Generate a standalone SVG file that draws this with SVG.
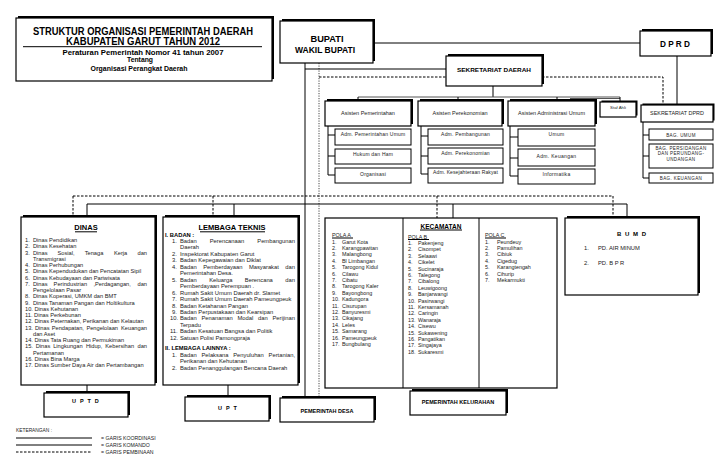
<svg xmlns="http://www.w3.org/2000/svg" width="728" height="476" viewBox="0 0 728 476">
<style>
text{font-family:"Liberation Sans",Arial,sans-serif;fill:#222}
.b{font-weight:bold;fill:#000}
.c{text-anchor:middle}
.e{text-anchor:end}
.bx{fill:#fff;stroke:#000;stroke-width:1.2}
.sb{fill:#fff;stroke:#000;stroke-width:1}
.sh{fill:#000}
.ln{stroke:#000;stroke-width:1;fill:none}
.gl{stroke:#555;stroke-width:1;fill:none}
.ds{stroke:#000;stroke-width:1;stroke-dasharray:2.5 1.5;fill:none}
.dt{stroke:#333;stroke-width:0.9;stroke-dasharray:1.2 1.3;fill:none}
.s5{font-size:5px}
.l{font-size:5.7px}
.m{font-size:5.8px}
.k{font-size:5.4px}
</style>
<rect width="728" height="476" fill="#fff"/>

<g id="connectors">
<line class="ln" x1="373" y1="43" x2="640" y2="43"/>
<line class="ln" x1="305" y1="63" x2="305" y2="398"/>
<line class="dt" x1="319" y1="63" x2="319" y2="398"/>
<line class="ln" x1="305" y1="69" x2="446" y2="69"/>
<polyline class="ds" points="319,77 446,77"/>
<polyline class="ds" points="542,77 663,77 663,105"/>
<line class="ln" x1="677" y1="56" x2="677" y2="105"/>
<line class="ln" x1="493" y1="86" x2="493" y2="97"/>
<line class="gl" x1="358" y1="97" x2="620" y2="97"/>
<line class="gl" x1="570" y1="98.5" x2="620" y2="98.5"/>
<line class="ln" x1="358" y1="97" x2="358" y2="101"/>
<line class="ln" x1="458" y1="97" x2="458" y2="101"/>
<line class="ln" x1="557" y1="97" x2="557" y2="101"/>
<line class="ln" x1="620" y1="97" x2="620" y2="102"/>
<polyline class="ln" points="328,126 328,175 335,175"/>
<line class="ln" x1="328" y1="135" x2="335" y2="135"/>
<line class="ln" x1="328" y1="156" x2="335" y2="156"/>
<polyline class="ln" points="421,126 421,174 428,174"/>
<line class="ln" x1="421" y1="136" x2="428" y2="136"/>
<line class="ln" x1="421" y1="156" x2="428" y2="156"/>
<polyline class="ln" points="510,126 510,176 518,176"/>
<line class="ln" x1="510" y1="137" x2="518" y2="137"/>
<line class="ln" x1="510" y1="158" x2="518" y2="158"/>
<polyline class="ln" points="643,122 643,178 649,178"/>
<line class="ln" x1="643" y1="135" x2="649" y2="135"/>
<line class="ln" x1="643" y1="156" x2="649" y2="156"/>
<line class="ds" x1="73" y1="196" x2="613" y2="196"/>
<line class="ln" x1="87" y1="204" x2="627" y2="204"/>
<line class="ds" x1="73" y1="196" x2="73" y2="217"/>
<line class="ln" x1="87" y1="204" x2="87" y2="217"/>
<line class="ds" x1="213" y1="196" x2="213" y2="217"/>
<line class="ln" x1="234" y1="204" x2="234" y2="217"/>
<line class="ds" x1="437" y1="196" x2="437" y2="218"/>
<line class="ln" x1="453" y1="204" x2="453" y2="218"/>
<line class="ds" x1="613" y1="196" x2="613" y2="218"/>
<line class="ln" x1="627" y1="204" x2="627" y2="218"/>
<line class="ln" x1="87" y1="385" x2="87" y2="393"/>
<line class="ln" x1="228" y1="385" x2="228" y2="397"/>
</g>

<g id="title">
<rect class="sh" x="18" y="16" width="256" height="63"/>
<rect class="bx" x="16" y="18" width="256" height="63" stroke-width="1.8"/>
<text class="b c" x="143" y="35" font-size="10" textLength="220" lengthAdjust="spacingAndGlyphs">STRUKTUR ORGANISASI PEMERINTAH DAERAH</text>
<text class="b c" x="143" y="45" font-size="10" textLength="154" lengthAdjust="spacingAndGlyphs">KABUPATEN GARUT  TAHUN 2012</text>
<line class="ln" x1="23" y1="46.7" x2="262" y2="46.7"/>
<text class="b c" x="143" y="54.5" font-size="6.6" textLength="161" lengthAdjust="spacingAndGlyphs">Peraturan Pemerintah Nomor 41 tahun 2007</text>
<text class="b c" x="140" y="62" font-size="6.6" textLength="26" lengthAdjust="spacingAndGlyphs">Tentang</text>
<text class="b c" x="139" y="71" font-size="6.6" textLength="97" lengthAdjust="spacingAndGlyphs">Organisasi Perangkat Daerah</text>
</g>

<g id="bupati">
<rect class="sh" x="282" y="19" width="93" height="42"/>
<rect class="bx" x="280" y="21" width="93" height="42" stroke-width="1.8"/>
<text class="b c" x="327" y="41.5" font-size="9" textLength="33" lengthAdjust="spacingAndGlyphs">BUPATI</text>
<text class="b c" x="325" y="52.5" font-size="9" textLength="60" lengthAdjust="spacingAndGlyphs">WAKIL BUPATI</text>
</g>

<g id="dprd">
<rect class="sh" x="642" y="29" width="71" height="25"/>
<rect class="bx" x="640" y="31" width="71" height="25"/>
<text class="b c" x="675" y="46.5" font-size="8.5" textLength="30" lengthAdjust="spacingAndGlyphs">D P R D</text>
</g>

<g id="sekda">
<rect class="sh" x="448" y="54" width="96" height="30"/>
<rect class="bx" x="446" y="56" width="96" height="30"/>
<text class="b c" x="494" y="71.5" font-size="6" textLength="74" lengthAdjust="spacingAndGlyphs">SEKRETARIAT  DAERAH</text>
</g>

<g id="asisten-pemerintahan">
<rect class="sh" x="327" y="99" width="86" height="25"/>
<rect class="bx" x="325" y="101" width="86" height="25"/>
<text class="c" font-size="5.5" x="368" y="114.5">Asisten Pemerintahan</text>
</g>
<g id="asisten-perekonomian">
<rect class="sh" x="420" y="99" width="84" height="25"/>
<rect class="bx" x="418" y="101" width="84" height="25"/>
<text class="c" font-size="5.5" x="460" y="114.5">Asisten Perekonomian</text>
</g>
<g id="asisten-administrasi">
<rect class="sh" x="510" y="99" width="87" height="25"/>
<rect class="bx" x="508" y="101" width="87" height="25"/>
<text class="c" font-size="5.5" x="551.5" y="114.5">Asisten Administrasi Umum</text>
</g>
<g id="staf-ahli">
<rect class="sh" x="601.5" y="100.5" width="36" height="15"/>
<rect class="bx" x="600" y="102" width="36" height="15"/>
<text class="c" x="618" y="109" font-size="4.3">Staf Ahli</text>
</g>
<g id="sekretariat-dprd">
<rect class="sh" x="642.5" y="103.5" width="72" height="17"/>
<rect class="bx" x="641" y="105" width="72" height="17"/>
<text class="c" font-size="5.5" x="677" y="114.5" textLength="54" lengthAdjust="spacingAndGlyphs">SEKRETARIAT DPRD</text>
</g>

<g id="adm-pemerintahan-umum"><rect class="sb" x="335" y="129" width="76" height="16"/><text class="c s5" x="373" y="135.5" letter-spacing="0.2">Adm. Pemerintahan Umum</text></g>
<g id="hukum-ham"><rect class="sb" x="335" y="149" width="76" height="15"/><text class="c s5" x="373" y="156" letter-spacing="0.2">Hukum dan Ham</text></g>
<g id="organisasi"><rect class="sb" x="335" y="168" width="76" height="15"/><text class="c s5" x="373" y="175.5" letter-spacing="0.2">Organisasi</text></g>

<g id="adm-pembangunan"><rect class="sb" x="428" y="129" width="75" height="16"/><text class="c s5" x="465.5" y="135.5" letter-spacing="0.2">Adm. Pembangunan</text></g>
<g id="adm-perekonomian"><rect class="sb" x="428" y="148" width="75" height="16"/><text class="c s5" x="465.5" y="155" letter-spacing="0.2">Adm. Perekonomian</text></g>
<g id="adm-kesra"><rect class="sb" x="428" y="168" width="75" height="15"/><text class="c s5" x="465.5" y="173.5" letter-spacing="0.1">Adm. Kesejahteraan Rakyat</text></g>

<g id="umum"><rect class="sb" x="518" y="129" width="77" height="17"/><text class="c s5" x="556.5" y="135.5" letter-spacing="0.3">Umum</text></g>
<g id="adm-keuangan"><rect class="sb" x="518" y="149" width="77" height="17"/><text class="c s5" x="556.5" y="158" letter-spacing="0.3">Adm. Keuangan</text></g>
<g id="informatika"><rect class="sb" x="518" y="169" width="77" height="15"/><text class="c s5" x="556.5" y="176" letter-spacing="0.3">Informatika</text></g>

<g id="bag-umum"><rect class="sb" x="649" y="129" width="64" height="11"/><text class="c" font-size="4.5" x="681" y="136.5" letter-spacing="0.4">BAG. UMUM</text></g>
<g id="bag-persidangan"><rect class="sb" x="649" y="144" width="64" height="24"/>
<text class="c" font-size="4.5" x="681" y="150" letter-spacing="0.4">BAG. PERSIDANGAN</text>
<text class="c" font-size="4.5" x="681" y="155" letter-spacing="0.4">DAN PERUNDANG-</text>
<text class="c" font-size="4.5" x="681" y="161" letter-spacing="0.4">UNDANGAN</text></g>
<g id="bag-keuangan"><rect class="sb" x="649" y="173" width="64" height="10"/><text class="c" font-size="4.5" x="681" y="179.5" letter-spacing="0.4">BAG. KEUANGAN</text></g>

<g id="dinas">
<rect class="sh" x="23" y="215" width="134" height="168"/>
<rect class="bx" x="21" y="217" width="134" height="168"/>
<text class="b c" x="86" y="230" font-size="7.5">DINAS</text>
<line class="ln" x1="75" y1="231.8" x2="97" y2="231.8"/>
<g class="l">
<text x="25" y="242">1.</text><text x="33" y="242">Dinas Pendidikan</text>
<text x="25" y="248.25">2.</text><text x="33" y="248.25">Dinas Kesehatan</text>
<text x="25" y="254.5">3.</text><text x="33" y="254.5">Dinas</text><text x="57.5" y="254.5">Sosial,</text><text x="84.7" y="254.5">Tenaga</text><text x="114" y="254.5">Kerja</text><text class="e" x="147" y="254.5">dan</text>
<text x="33" y="260.75">Transmigrasi</text>
<text x="25" y="267">4.</text><text x="33" y="267">Dinas Perhubungan</text>
<text x="25" y="273.25">5.</text><text x="33" y="273.25">Dinas Kependudukan dan Pencatatan Sipil</text>
<text x="25" y="279.5">6.</text><text x="33" y="279.5">Dinas Kebudayaan dan Pariwisata</text>
<text x="25" y="285.75">7.</text><text x="33" y="285.75">Dinas</text><text x="53.6" y="285.75">Perindustrian</text><text x="93.5" y="285.75">,Perdagangan,</text><text class="e" x="147" y="285.75">dan</text>
<text x="33" y="292">Pengelolaan Pasar</text>
<text x="25" y="298.25">8.</text><text x="33" y="298.25">Dinas Koperasi, UMKM dan BMT</text>
<text x="25" y="304.5">9.</text><text x="33" y="304.5">Dinas Tanaman Pangan dan Holtikultura</text>
<text x="25" y="310.75">10. Dinas Kehutanan</text>
<text x="25" y="317">11. Dinas Perkebunan</text>
<text x="25" y="323.25">12. Dinas Peternakan, Perikanan dan Kelautan</text>
<text x="25" y="329.5">13.</text><text x="35" y="329.5">Dinas</text><text x="51.7" y="329.5">Pendapatan,</text><text x="86.4" y="329.5">Pengelolaan</text><text class="e" x="147" y="329.5">Keuangan</text>
<text x="33" y="335.75">dan Aset</text>
<text x="25" y="342">14. Dinas Tata Ruang dan Permukiman</text>
<text x="25" y="348.25">15.</text><text x="35.7" y="348.25">Dinas</text><text x="53.2" y="348.25">Lingkungan</text><text x="85.9" y="348.25">Hidup,</text><text x="105.3" y="348.25">Kebersihan</text><text class="e" x="147" y="348.25">dan</text>
<text x="33" y="354.5">Pertamanan</text>
<text x="25" y="360.75">16. Dinas Bina Marga</text>
<text x="25" y="367">17. Dinas Sumber Daya Air dan Pertambangan</text>
</g>
</g>

<g id="lembaga-teknis">
<rect class="sh" x="165" y="215" width="135" height="168"/>
<rect class="bx" x="163" y="217" width="135" height="168"/>
<text class="b c" x="232" y="230" font-size="7.5">LEMBAGA TEKNIS</text>
<line class="ln" x1="200" y1="231.8" x2="265" y2="231.8"/>
<text class="b m" x="165" y="236.5">I. BADAN :</text>
<g class="m">
<text x="172" y="243">1.</text><text x="180" y="243">Badan</text><text x="209.7" y="243">Perencanaan</text><text class="e" x="295" y="243">Pembangunan</text>
<text x="180" y="249.45">Daerah</text>
<text x="172" y="255.9">2.</text><text x="180" y="255.9">Inspektorat Kabupaten Garut</text>
<text x="172" y="262.35">3.</text><text x="180" y="262.35">Badan Kepegawaian dan Diklat</text>
<text x="172" y="268.8">4.</text><text x="180" y="268.8">Badan</text><text x="203.2" y="268.8">Pemberdayaan</text><text x="248.9" y="268.8">Masyarakat</text><text class="e" x="295" y="268.8">dan</text>
<text x="180" y="275.25">Pemerintahan Desa.</text>
<text x="172" y="281.7">5.</text><text x="180" y="281.7">Badan</text><text x="209.2" y="281.7">Keluarga</text><text x="244.8" y="281.7">Berencana</text><text class="e" x="295" y="281.7">dan</text>
<text x="180" y="288.15">Pemberdayaan Perempuan .</text>
<text x="172" y="294.6">6.</text><text x="180" y="294.6">Rumah Sakit Umum Daerah dr. Slamet</text>
<text x="172" y="301.05">7.</text><text x="180" y="301.05">Rumah Sakit Umum Daerah Pameungpeuk</text>
<text x="172" y="307.5">8.</text><text x="180" y="307.5">Badan Ketahanan Pangan</text>
<text x="172" y="313.95">9.</text><text x="180" y="313.95">Badan Perpustakaan dan Kearsipan</text>
<text x="170" y="320.4">10.</text><text x="180" y="320.4">Badan</text><text x="201.5" y="320.4">Penanaman</text><text x="237.5" y="320.4">Modal</text><text x="258" y="320.4">dan</text><text class="e" x="295" y="320.4">Perijinan</text>
<text x="180" y="326.85">Terpadu</text>
<text x="170" y="333.3">11.</text><text x="180" y="333.3">Badan Kesatuan Bangsa dan Politik</text>
<text x="170" y="339.75">12.</text><text x="180" y="339.75">Satuan Polisi Pamongpraja</text>
</g>
<text class="b m" x="165" y="350">II. LEMBAGA LAINNYA :</text>
<g class="m">
<text x="172" y="356.5">1.</text><text x="180" y="356.5">Badan</text><text x="201.5" y="356.5">Pelaksana</text><text x="233.2" y="356.5">Penyuluhan</text><text class="e" x="295" y="356.5">Pertanian,</text>
<text x="180" y="363">Perikanan dan Kehutanan</text>
<text x="172" y="369.5">2.</text><text x="180" y="369.5">Badan Penanggulangan Bencana Daerah</text>
</g>
</g>

<g id="kecamatan">
<rect class="bx" x="325" y="218" width="232" height="170"/>
<line class="ln" x1="403" y1="218" x2="403" y2="388"/>
<line class="ln" x1="479" y1="218" x2="479" y2="388"/>
<text class="b c" x="441" y="228.5" font-size="6.5">KECAMATAN</text>
<line class="ln" x1="420" y1="230" x2="462" y2="230"/>
<g class="k">
<text x="332" y="237">POLA A</text><line class="ln" x1="332" y1="238" x2="353" y2="238" stroke-width="0.6"/>
<text x="408" y="238.5">POLA B</text><line class="ln" x1="408" y1="239.5" x2="429" y2="239.5" stroke-width="0.6"/>
<text x="485" y="237">POLA C</text><line class="ln" x1="485" y1="238" x2="506" y2="238" stroke-width="0.6"/>

<text x="332" y="243.5">1.</text><text x="342" y="243.5">Garut Kota</text>
<text x="332" y="249.9">2.</text><text x="342" y="249.9">Karangpawitan</text>
<text x="332" y="256.3">3.</text><text x="342" y="256.3">Malangbong</text>
<text x="332" y="262.7">4.</text><text x="342" y="262.7">Bl Limbangan</text>
<text x="332" y="269.1">5.</text><text x="342" y="269.1">Tarogong Kidul</text>
<text x="332" y="275.5">6.</text><text x="342" y="275.5">Cilawu</text>
<text x="332" y="281.9">7.</text><text x="342" y="281.9">Cibatu</text>
<text x="332" y="288.3">8.</text><text x="342" y="288.3">Tarogong Kaler</text>
<text x="332" y="294.7">9.</text><text x="342" y="294.7">Bayongbong</text>
<text x="332" y="301.1">10.</text><text x="342" y="301.1">Kadungora</text>
<text x="332" y="307.5">11.</text><text x="342" y="307.5">Cisurupan</text>
<text x="332" y="313.9">12.</text><text x="342" y="313.9">Banyuresmi</text>
<text x="332" y="320.3">13.</text><text x="342" y="320.3">Cikajang</text>
<text x="332" y="326.7">14.</text><text x="342" y="326.7">Leles</text>
<text x="332" y="333.1">15.</text><text x="342" y="333.1">Samarang</text>
<text x="332" y="339.5">16.</text><text x="342" y="339.5">Pameungpeuk</text>
<text x="332" y="345.9">17.</text><text x="342" y="345.9">Bungbulang</text>

<text x="408" y="245">1.</text><text x="418" y="245">Pakenjeng</text>
<text x="408" y="251.4">2.</text><text x="418" y="251.4">Cisompet</text>
<text x="408" y="257.8">3.</text><text x="418" y="257.8">Selaawi</text>
<text x="408" y="264.2">4.</text><text x="418" y="264.2">Cikelet</text>
<text x="408" y="270.6">5.</text><text x="418" y="270.6">Sucinaraja</text>
<text x="408" y="277">6.</text><text x="418" y="277">Talegong</text>
<text x="408" y="283.4">7.</text><text x="418" y="283.4">Cibalong</text>
<text x="408" y="289.8">8.</text><text x="418" y="289.8">Leuwigoong</text>
<text x="408" y="296.2">9.</text><text x="418" y="296.2">Banjarwangi</text>
<text x="408" y="302.6">10.</text><text x="418" y="302.6">Pasirwangi</text>
<text x="408" y="309">11.</text><text x="418" y="309">Kersamanah</text>
<text x="408" y="315.4">12.</text><text x="418" y="315.4">Caringin</text>
<text x="408" y="321.8">13.</text><text x="418" y="321.8">Wanaraja</text>
<text x="408" y="328.2">14.</text><text x="418" y="328.2">Cisewu</text>
<text x="408" y="334.6">15.</text><text x="418" y="334.6">Sukawening</text>
<text x="408" y="341">16.</text><text x="418" y="341">Pangatikan</text>
<text x="408" y="347.4">17.</text><text x="418" y="347.4">Singajaya</text>
<text x="408" y="353.8">18.</text><text x="418" y="353.8">Sukaresmi</text>

<text x="485" y="243.5">1.</text><text x="497" y="243.5">Peundeuy</text>
<text x="485" y="249.9">2.</text><text x="497" y="249.9">Pamulihan</text>
<text x="485" y="256.3">3.</text><text x="497" y="256.3">Cibiuk</text>
<text x="485" y="262.7">4.</text><text x="497" y="262.7">Cigedug</text>
<text x="485" y="269.1">5.</text><text x="497" y="269.1">Karangtengah</text>
<text x="485" y="275.5">6.</text><text x="497" y="275.5">Cihurip</text>
<text x="485" y="281.9">7.</text><text x="497" y="281.9">Mekarmukti</text>
</g>
</g>

<g id="bumd">
<rect class="sh" x="567" y="216" width="133" height="77"/>
<rect class="bx" x="565" y="218" width="133" height="77"/>
<text class="b c" x="632" y="236" font-size="6" letter-spacing="1">B U M D</text>
<text class="m" x="584" y="250">1.</text><text class="m" x="598" y="250">PD. AIR  MINUM</text>
<text class="m" x="584" y="265">2.</text><text class="m" x="598" y="265">PD.  B P R</text>
</g>

<g id="uptd">
<rect class="sh" x="46" y="391" width="84" height="24"/>
<rect class="bx" x="44" y="393" width="84" height="24"/>
<text class="b c" x="86" y="402.5" font-size="5.5" letter-spacing="1.2">U P T D</text>
</g>
<g id="upt">
<rect class="sh" x="187" y="395" width="84" height="24"/>
<rect class="bx" x="185" y="397" width="84" height="24"/>
<text class="b c" x="228" y="409.5" font-size="5.5" letter-spacing="1.2">U P T</text>
</g>
<g id="pemerintah-desa">
<rect class="sh" x="282" y="396" width="94" height="24"/>
<rect class="bx" x="280" y="398" width="94" height="24"/>
<text class="b c" x="327" y="413" font-size="5.5">PEMERINTAH DESA</text>
</g>
<g id="pemerintah-kelurahan">
<rect class="sh" x="412" y="389" width="96" height="24"/>
<rect class="bx" x="410" y="391" width="96" height="24"/>
<text class="b c" x="458" y="404" font-size="5.5">PEMERINTAH KELURAHAN</text>
</g>

<g id="legend">
<text x="16" y="432" font-size="5.5" textLength="36" lengthAdjust="spacingAndGlyphs">KETERANGAN :</text>
<line class="ln" x1="16" y1="438" x2="92" y2="438"/>
<line class="ln" x1="16" y1="445" x2="92" y2="445"/>
<line class="ds" x1="16" y1="452" x2="92" y2="452"/>
<text font-size="5.2" x="101" y="440">= GARIS KOORDINASI</text>
<text font-size="5.2" x="101" y="447">= GARIS KOMANDO</text>
<text font-size="5.2" x="101" y="454">= GARIS PEMBINAAN</text>
</g>
</svg>
